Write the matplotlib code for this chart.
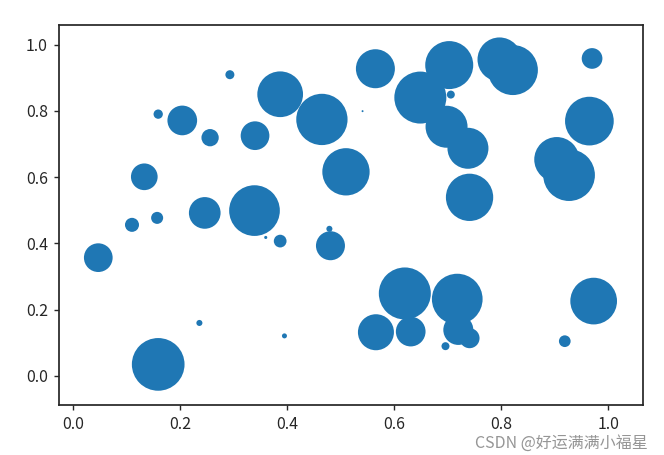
import matplotlib.pyplot as plt

# bubble data (x, y, marker area in pt^2)
x = [0.047, 0.110, 0.157, 0.133, 0.246, 0.339, 0.159, 0.236, 0.395, 0.387,
     0.360, 0.481, 0.479, 0.510, 0.566, 0.631, 0.620, 0.718, 0.720, 0.741,
     0.696, 0.919, 0.973, 0.565, 0.387, 0.465, 0.340, 0.256, 0.204, 0.159,
     0.293, 0.541, 0.649, 0.703, 0.698, 0.738, 0.706, 0.797, 0.822, 0.970,
     0.965, 0.904, 0.927, 0.741]
y = [0.357, 0.456, 0.477, 0.601, 0.492, 0.499, 0.035, 0.160, 0.121, 0.407,
     0.418, 0.393, 0.444, 0.616, 0.132, 0.134, 0.249, 0.232, 0.139, 0.114,
     0.090, 0.105, 0.226, 0.927, 0.850, 0.774, 0.725, 0.719, 0.771, 0.790,
     0.909, 0.799, 0.840, 0.938, 0.752, 0.687, 0.849, 0.955, 0.923, 0.958,
     0.769, 0.653, 0.606, 0.539]
sizes = [427, 102, 75, 369, 520, 1332, 1439, 19, 13, 84,
         5, 436, 19, 1160, 672, 457, 1402, 1332, 467, 207,
         33, 71, 1130, 788, 1083, 1364, 427, 155, 457, 45,
         42, 2, 1402, 1194, 914, 871, 33, 1004, 1296, 222,
         1229, 1050, 1386, 1160]
ticks = [0.0, 0.2, 0.4, 0.6, 0.8, 1.0]
tick_labels = ['0.0', '0.2', '0.4', '0.6', '0.8', '1.0']

plt.rcParams['font.family'] = ['Noto Sans CJK SC', 'DejaVu Sans']

fig = plt.figure(figsize=(6.64, 4.55), dpi=100)
ax = fig.add_axes([0.0884, 0.1099, 0.8798, 0.8352])
ax.scatter(x, y, s=sizes, color='#1f77b4', linewidths=0)

ax.set_xlim(-0.027, 1.065)
ax.set_ylim(-0.0875, 1.059)
ax.set_xticks(ticks)
ax.set_yticks(ticks)
ax.set_xticklabels(tick_labels)
ax.set_yticklabels(tick_labels)

for sp in ax.spines.values():
    sp.set_color('#262626')
    sp.set_linewidth(1.25)
ax.tick_params(direction='out', length=3.8, width=1.0, color='#262626',
               labelcolor='#262626', labelsize=11.5, pad=4)

# watermark, nudged just below the tick labels
fig.text(0.975, 0.026, 'CSDN @好运满满小福星', ha='right', va='center',
         fontsize=11.5, color='#8a8a8a', alpha=0.9)

fig.savefig('out.png', dpi=100)
